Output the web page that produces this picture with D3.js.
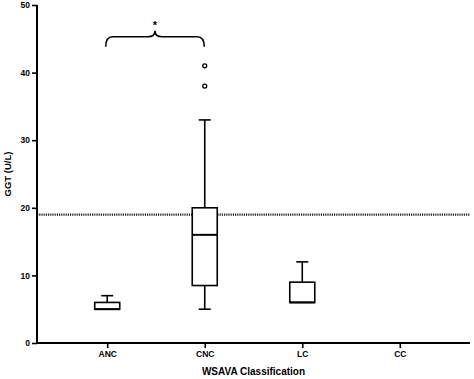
<!DOCTYPE html>
<html>
<head>
<meta charset="utf-8">
<script src="https://cdn.jsdelivr.net/npm/d3@7"></script>
<style>
body { margin: 0; background: #fff; }
svg { display: block; font-family: "Liberation Sans", Arial, sans-serif; }
</style>
</head>
<body>
<svg id="chart" width="474" height="379"></svg>
<script>
const categories = ["ANC", "CNC", "LC", "CC"];
const whiskerLow = [5, 5, 6, null];
const q1 = [5, 8.5, 6, null];
const median = [5, 16, 6, null];
const q3 = [6, 20, 9, null];
const whiskerHigh = [7, 33, 12, null];
const outliers = [[], [38, 41], [], []];
const refValue = 19;
const yTicks = [0, 10, 20, 30, 40, 50];
const bracketPair = ["ANC", "CNC"];
const bracketValue = 45.3;
const bracketLabel = "*";

const svg = d3.select("#chart");
const x = d3.scalePoint().domain(categories).range([37, 470]).padding(0.72);
const y = d3.scaleLinear().domain([0, 50]).range([343, 5]);

const boxW = 25, capW = 12;

// Reference dotted line
svg.append("line")
  .attr("x1", 37).attr("x2", 470)
  .attr("y1", y(refValue)).attr("y2", y(refValue))
  .attr("stroke", "#222").attr("stroke-width", 2.2)
  .attr("stroke-dasharray", "1.2,1");

// Boxes
categories.forEach((c, i) => {
  if (median[i] == null) return;
  const cx = x(c);
  const g = svg.append("g").attr("stroke", "#000").attr("stroke-width", 1.6).attr("fill", "none");
  // upper whisker
  g.append("line").attr("x1", cx).attr("x2", cx).attr("y1", y(q3[i])).attr("y2", y(whiskerHigh[i]));
  g.append("line").attr("x1", cx - capW / 2).attr("x2", cx + capW / 2).attr("y1", y(whiskerHigh[i])).attr("y2", y(whiskerHigh[i]));
  // lower whisker
  if (whiskerLow[i] < q1[i]) {
    g.append("line").attr("x1", cx).attr("x2", cx).attr("y1", y(q1[i])).attr("y2", y(whiskerLow[i]));
    g.append("line").attr("x1", cx - capW / 2).attr("x2", cx + capW / 2).attr("y1", y(whiskerLow[i])).attr("y2", y(whiskerLow[i]));
  }
  g.append("rect").attr("x", cx - boxW / 2).attr("width", boxW)
    .attr("y", y(q3[i])).attr("height", y(q1[i]) - y(q3[i])).attr("fill", "#fff");
  g.append("line").attr("x1", cx - boxW / 2).attr("x2", cx + boxW / 2)
    .attr("y1", y(median[i])).attr("y2", y(median[i])).attr("stroke-width", 2);
  outliers[i].forEach(v => {
    g.append("circle").attr("cx", cx).attr("cy", y(v)).attr("r", 2).attr("stroke-width", 1.3);
  });
});

// Bracket
{
  const x1 = x(bracketPair[0]) - 1.5, x2 = x(bracketPair[1]) - 0.5;
  const xm = (x1 + x2) / 2;
  const yh = y(bracketValue), yb = yh + 10, yp = yh - 6;
  const r = 7;
  const p = d3.path();
  p.moveTo(x1, yb);
  p.quadraticCurveTo(x1, yh, x1 + r, yh);
  p.lineTo(xm - r, yh);
  p.quadraticCurveTo(xm, yh, xm, yp);
  p.quadraticCurveTo(xm, yh, xm + r, yh);
  p.lineTo(x2 - r, yh);
  p.quadraticCurveTo(x2, yh, x2, yb);
  svg.append("path").attr("d", p.toString()).attr("fill", "none")
    .attr("stroke", "#000").attr("stroke-width", 1.6);
  svg.append("text").attr("x", xm).attr("y", yp - 2).attr("text-anchor", "middle")
    .attr("font-size", 11).attr("font-weight", "bold").text(bracketLabel);
}

// Axes
const yAxis = d3.axisLeft(y).tickValues(yTicks).tickSize(5).tickPadding(2);
const gy = svg.append("g").attr("transform", "translate(37,0)").call(yAxis);
gy.select(".domain").attr("stroke-width", 2).attr("d", `M0,${y(50)}V${y(0)}`);
gy.selectAll(".tick line").attr("stroke-width", 1.6);
gy.selectAll(".tick text").attr("font-size", 8.5).attr("font-weight", "bold").attr("fill", "#000");

const xAxis = d3.axisBottom(x).tickSize(5).tickPadding(3);
const gx = svg.append("g").attr("transform", `translate(0,${y(0)})`).call(xAxis);
gx.select(".domain").attr("stroke-width", 2).attr("d", `M37,0H470`);
gx.selectAll(".tick line").attr("stroke-width", 1.6);
gx.selectAll(".tick text").attr("font-size", 8.5).attr("font-weight", "bold").attr("fill", "#000");

svg.append("text").attr("x", 253.5).attr("y", 375).attr("text-anchor", "middle")
  .attr("font-size", 10).attr("font-weight", "bold").text("WSAVA Classification");
svg.append("text").attr("transform", `translate(11,${(y(0) + y(50)) / 2}) rotate(-90)`)
  .attr("text-anchor", "middle").attr("font-size", 9.5).attr("font-weight", "bold").text("GGT (U/L)");
</script>
</body>
</html>
